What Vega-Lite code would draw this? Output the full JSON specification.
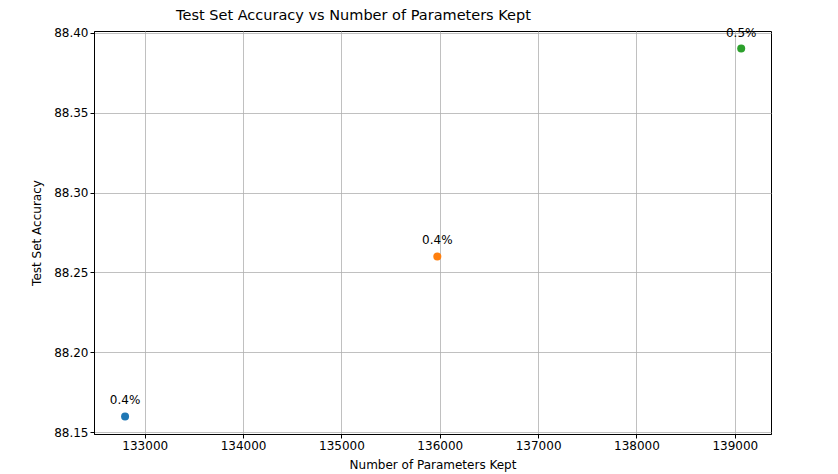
{
  "$schema": "https://vega.github.io/schema/vega-lite/v6.json",
  "width": 677,
  "height": 403,
  "autosize": {"type": "none"},
  "padding": {"left": 94, "top": 31, "right": 67, "bottom": 40},
  "background": "white",
  "config": {
    "font": "DejaVu Sans",
    "view": {"stroke": "black", "strokeWidth": 1},
    "axis": {
      "labelFont": "DejaVu Sans",
      "labelFontSize": 12,
      "labelColor": "black",
      "titleFont": "DejaVu Sans",
      "titleFontSize": 12,
      "titleFontWeight": "normal",
      "titleColor": "black",
      "tickColor": "black",
      "tickSize": 4,
      "domainColor": "black",
      "gridColor": "#b0b0b0",
      "gridWidth": 0.8
    }
  },
  "title": {
    "text": "Test Set Accuracy vs Number of Parameters Kept",
    "font": "DejaVu Sans",
    "fontSize": 14.5,
    "fontWeight": "normal",
    "color": "black",
    "anchor": "middle",
    "dx": -79,
    "offset": 3
  },
  "data": {
    "values": [
      {"params": 132800, "accuracy": 88.16, "label": "0.4%", "run": "a"},
      {"params": 135975, "accuracy": 88.26, "label": "0.4%", "run": "b"},
      {"params": 139065, "accuracy": 88.39, "label": "0.5%", "run": "c"}
    ]
  },
  "encoding": {
    "x": {
      "field": "params",
      "type": "quantitative",
      "title": "Number of Parameters Kept",
      "scale": {"domain": [132484, 139368], "nice": false, "zero": false},
      "axis": {"values": [133000, 134000, 135000, 136000, 137000, 138000, 139000], "format": "d", "titlePadding": 8}
    },
    "y": {
      "field": "accuracy",
      "type": "quantitative",
      "title": "Test Set Accuracy",
      "scale": {"domain": [88.149, 88.401], "nice": false, "zero": false},
      "axis": {"values": [88.15, 88.2, 88.25, 88.3, 88.35, 88.4], "format": ".2f", "titlePadding": 10}
    }
  },
  "layer": [
    {
      "mark": {"type": "point", "filled": true, "opacity": 1, "size": 64},
      "encoding": {
        "color": {
          "field": "run",
          "type": "nominal",
          "scale": {"domain": ["a", "b", "c"], "range": ["#1f77b4", "#ff7f0e", "#2ca02c"]},
          "legend": null
        }
      }
    },
    {
      "mark": {"type": "text", "dy": -16, "fontSize": 12, "color": "black", "font": "DejaVu Sans"},
      "encoding": {"text": {"field": "label"}}
    }
  ]
}
